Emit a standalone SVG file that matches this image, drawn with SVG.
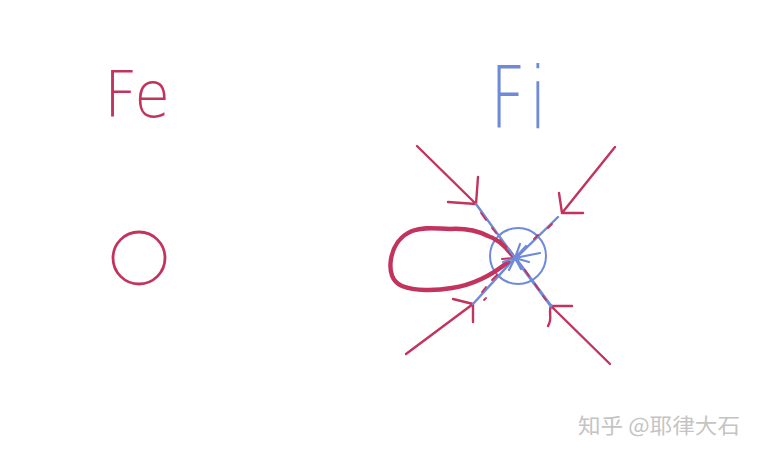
<svg xmlns="http://www.w3.org/2000/svg" width="760" height="456" viewBox="0 0 760 456">
<style>
.red{stroke:#c2335e;fill:none;stroke-linecap:round;stroke-linejoin:round}
.blue{stroke:#6f8ad8;fill:none;stroke-linecap:round;stroke-linejoin:round}
.lbl{font-family:"DejaVu Sans","Liberation Sans",sans-serif;font-weight:200}
</style>
<rect width="760" height="456" fill="#ffffff"/>
<g id="fe-label">
<text class="lbl" x="104" y="117" font-size="64" fill="#c2335e" textLength="66" lengthAdjust="spacingAndGlyphs">Fe</text>
</g>
<g id="fe-node">
<circle class="red" cx="139" cy="258" r="26" stroke-width="2.8"/>
</g>
<g id="fi-label">
<text class="lbl" transform="translate(490,128) scale(0.72,1)" x="0 55" y="0" font-size="86" fill="#6f8ad8">Fi</text>
</g>
<g id="fi-node">
<circle class="blue" cx="518" cy="256" r="28" stroke-width="2"/>
</g>
<g id="connectors">
<path class="red" stroke-width="2.4" d="M417 146 L476 204 M478 177 L476 204 L448 202"/>
<path class="blue" stroke-width="2.4" d="M476 204 L515 258"/>
<path class="red" stroke-width="1.8" d="M481 213 L486 220 M492 228 L496 233 M500 240 L505 246"/>
<path class="red" stroke-width="2.4" d="M615 147 L562 213 M559 193 L562 213 L583 213"/>
<path class="blue" stroke-width="2.4" d="M558 217 L516 258"/>
<path class="red" stroke-width="1.8" d="M552 224 L548 228 M538 235 L534 239"/>
<path class="red" stroke-width="2.4" d="M406 354 L473 304 M473 322 L473 304 L453 299"/>
<path class="blue" stroke-width="2.4" d="M473 304 L514 259"/>
<path class="red" stroke-width="1.8" d="M482 292 L486 287 M492 280 L497 275 M486 298 L484 300"/>
<path class="red" stroke-width="2.4" d="M610 364 L551 306 M572 306 L551 306 M551 306 C548 312 553 318 548 326"/>
<path class="blue" stroke-width="3" d="M516 259 L551 306"/>
<path class="red" stroke-width="1.8" d="M525 270 L529 276 M535 284 L539 290 M543 296 L546 300"/>
<path class="red" stroke-width="4.4" d="M512 255 C505 246 498 239 488 236 C478 231 466 228 450 229 C438 229 425 226 412 231 C400 236 393 247 391 259 C389 271 392 282 402 286 C415 291 435 291 452 288 C472 285 492 275 508 262"/>
<path class="red" stroke-width="2" d="M502 259 L514 258"/>
<path class="blue" stroke-width="2.2" d="M515 258 L526 246 M515 258 L540 253 M515 258 L508 248 M515 258 L509 270 M515 258 L521 269 M515 258 L503 262 M515 258 L529 262 M515 258 L520 244"/>
</g>
<g id="watermark">
<text x="578" y="433" font-family="'Noto Sans CJK SC',sans-serif" font-size="21" fill="#c4c4c4" textLength="162" lengthAdjust="spacingAndGlyphs">知乎 @耶律大石</text>
</g>
</svg>
